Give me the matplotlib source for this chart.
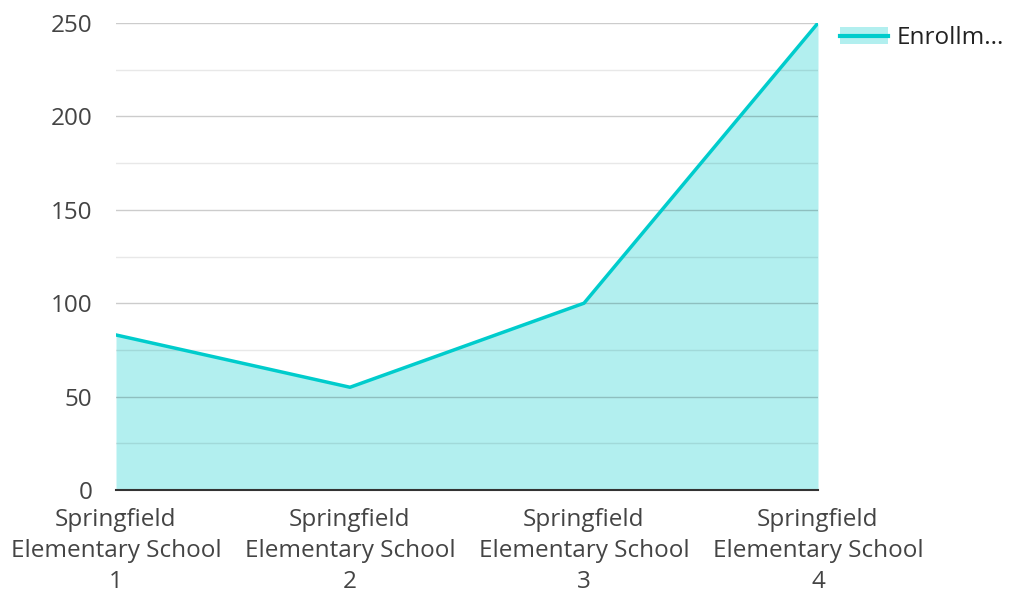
import matplotlib.pyplot as plt
from matplotlib.lines import Line2D
from matplotlib.patches import Patch

# データ
schools = ['Springfield\nElementary School\n1', 'Springfield\nElementary School\n2',
           'Springfield\nElementary School\n3', 'Springfield\nElementary School\n4']
enrollment = [83, 55, 100, 250]
series_name = 'Enrollm...'

plt.rcParams['font.family'] = ['Open Sans', 'DejaVu Sans']
color = '#00cccc'

fig = plt.figure(figsize=(10.15, 5.94), dpi=100)
ax = fig.add_axes([116 / 1015, 1 - 490 / 594, (818 - 116) / 1015, (490 - 23) / 594])

x = list(range(len(schools)))
ax.fill_between(x, 0, enrollment, color=color, alpha=0.3, linewidth=0, zorder=1)
ax.plot(x, enrollment, color=color, linewidth=2.5, zorder=3)

ax.set_xlim(0, len(schools) - 1)
ax.set_ylim(0, 250)
ax.set_yticks(range(0, 251, 50))
ax.set_yticks(range(25, 251, 50), minor=True)
ax.grid(axis='y', which='major', color='black', alpha=0.2, linewidth=1, zorder=2)
ax.grid(axis='y', which='minor', color='black', alpha=0.09, linewidth=1, zorder=2)
ax.set_axisbelow(False)

ax.set_xticks(x)
ax.set_xticklabels(schools, linespacing=1.38)
ax.tick_params(axis='both', which='both', length=0, labelsize=17.5, labelcolor='#444444')
ax.tick_params(axis='y', pad=17)
ax.tick_params(axis='x', pad=13)

for s in ['top', 'right', 'left']:
    ax.spines[s].set_visible(False)
ax.spines['bottom'].set_color('#333333')
ax.spines['bottom'].set_linewidth(1.5)
ax.spines['bottom'].set_zorder(4)

handle = (Patch(facecolor=color, alpha=0.3, linewidth=0), Line2D([], [], color=color, linewidth=3))
ax.legend([handle], [series_name], loc='upper left', bbox_to_anchor=(1.0, 1.04),
          frameon=False, fontsize=17.5, handlelength=2.0, handletextpad=0.35,
          labelcolor='#222222')

plt.savefig('out.png', dpi=100)
